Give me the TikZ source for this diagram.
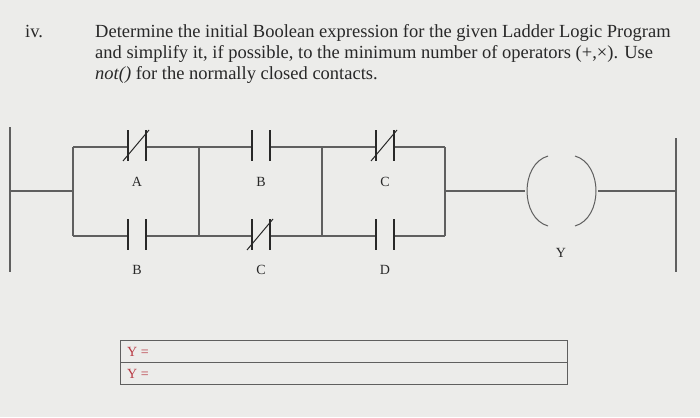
\documentclass[tikz,border=0pt]{standalone}
\usepackage{fontspec}
\setmainfont{Liberation Serif}
\definecolor{bg}{RGB}{236,236,234}
\definecolor{ink}{RGB}{40,40,40}
\definecolor{wire}{RGB}{95,95,95}
\definecolor{redt}{RGB}{185,60,70}
\begin{document}
\begin{tikzpicture}[x=1pt,y=-1pt,
  txt/.style={anchor=base west,inner sep=0,font=\fontsize{18.5}{22}\selectfont,text=ink},
  lbl/.style={inner sep=0,font=\fontsize{14}{16}\selectfont,text=ink},
  wr/.style={draw=wire,line width=1.2pt},
  plate/.style={draw=ink,line width=2pt},
  slash/.style={draw=ink,line width=1pt}]
\fill[bg] (0,0) rectangle (700,417);
\useasboundingbox (0,0) rectangle (700,417);
\node[txt] (iv) at (25,38) {iv.};
\node[txt] (l1) at (95,38) {Determine the initial Boolean expression for the given Ladder Logic Program};
\node[txt] (l2) at (95,59) {and simplify it, if possible, to the minimum number of operators (+,×). Use};
\node[txt] (l3) at (95,80) {\textit{not()} for the normally closed contacts.};
% rails
\coordinate (lr1) at (10,127); \coordinate (lr2) at (10,272);
\coordinate (rr1) at (676,138); \coordinate (rr2) at (676,272);
\draw[wr] (lr1) -- (lr2); \draw[wr] (rr1) -- (rr2);
\coordinate (L) at (10,191); \coordinate (BL) at (73,191); \coordinate (BR) at (445,191);
\coordinate (TL) at (73,147); \coordinate (TR) at (445,147);
\coordinate (DL) at (73,236); \coordinate (DR) at (445,236);
\draw[wr] (L) -- (BL); \draw[wr] (TL) -- (DL); \draw[wr] (TR) -- (DR);
\draw[wr] (199,147) -- (199,236); \draw[wr] (322,147) -- (322,236);
\draw[wr] (TL) -- (TR); \draw[wr] (DL) -- (DR);
% contacts
\foreach \n/\x/\y/\nc/\t/\ly in {a/137/147/1/A/182, b/261/147/0/B/182, c/385/147/1/C/182,
  d/137/236/0/B/270, e/261/236/1/C/270, f/385/236/0/D/270}{
  \fill[bg] (\x-9,\y-2) rectangle (\x+9,\y+2);
  \draw[plate] (\x-9,\y-17) -- (\x-9,\y+14);
  \draw[plate] (\x+9,\y-17) -- (\x+9,\y+14);
  \ifnum\nc=1 \draw[slash] (\x-14,\y+14) -- (\x+12,\y-17); \fi
  \node[lbl] (\n) at (\x,\ly) {\t};
}
% coil
\coordinate (cL) at (525,191); \coordinate (cR) at (598,191);
\draw[wr] (BR) -- (cL); \draw[wr] (cR) -- (676,191);
\draw[draw=wire,line width=1pt] (548,156) .. controls (520,164) and (520,218) .. (548,226);
\draw[draw=wire,line width=1pt] (575,156) .. controls (603,164) and (603,218) .. (575,226);
\node[lbl] (y) at (561,253) {Y};
% table
\draw[draw=wire,line width=0.9pt] (120,340) rectangle (567,384);
\draw[draw=wire,line width=0.9pt] (120,362) -- (567,362);
\node[lbl,anchor=west,text=redt] (y1) at (127,352) {Y =};
\node[lbl,anchor=west,text=redt] (y2) at (127,374) {Y =};
\end{tikzpicture}
\end{document}
